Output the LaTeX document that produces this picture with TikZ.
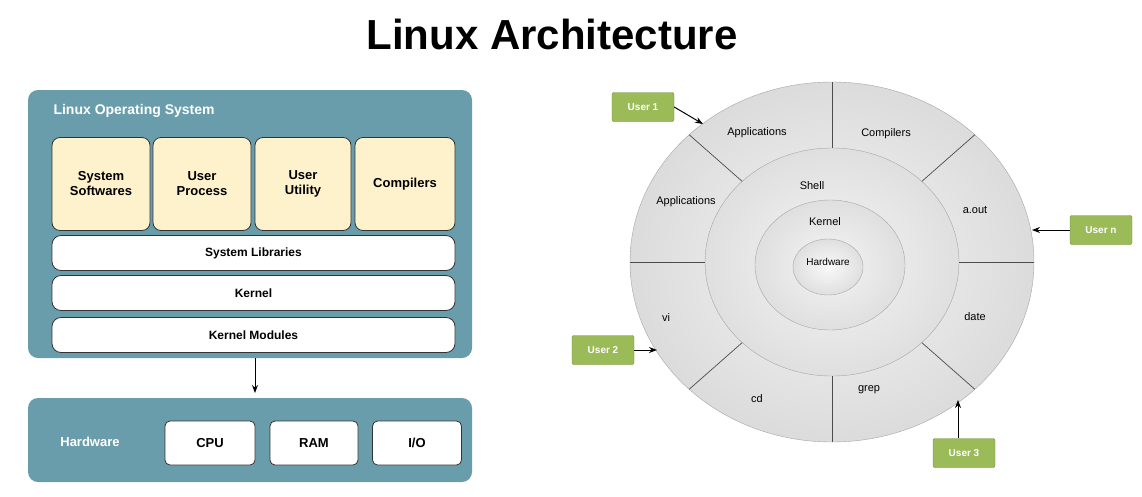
\documentclass[tikz,border=0pt]{standalone}
\usepackage{fontspec}
\setmainfont{Liberation Sans}
\usetikzlibrary{arrows.meta}
\definecolor{teal1}{HTML}{6A9DAB}
\definecolor{ybox}{HTML}{FDF2CC}
\definecolor{ugreen}{HTML}{9BBB59}
\definecolor{ugreenb}{HTML}{6E8A3A}
\begin{document}
\begin{tikzpicture}[x=1pt,y=-1pt,
 panel/.style={fill=teal1,rounded corners=10pt},
 ybx/.style={draw=black!80,fill=ybox,rounded corners=8pt,line width=0.8pt,align=center,font=\bfseries\fontsize{13}{15}\selectfont},
 bar/.style={draw=black!80,fill=white,rounded corners=9pt,line width=0.8pt,font=\bfseries\fontsize{12}{14}\selectfont},
 hw/.style={draw=black!80,fill=white,rounded corners=5pt,line width=0.8pt,font=\bfseries\fontsize{13}{15}\selectfont},
 usr/.style={draw=ugreenb,fill=ugreen,rounded corners=2pt,minimum width=62pt,minimum height=29pt,text=white,font=\bfseries\fontsize{10}{12}\selectfont},
 lbl/.style={font=\fontsize{11}{13}\selectfont},
 arr/.style={-{Stealth[length=8pt,width=6pt]},line width=1pt}]
\useasboundingbox (0,0) rectangle (1142,496);
\node[font=\bfseries\fontsize{42}{48}\selectfont] (title) at (552,34) {Linux Architecture};
% left
\fill[panel] (28,90) rectangle (472,358);
\node[anchor=west,text=white,font=\bfseries\fontsize{14}{16}\selectfont] (los) at (50,111) {Linux Operating System};
\node[ybx,minimum width=98pt,minimum height=93pt] (ss) at (101,184) {System\\Softwares};
\node[ybx,minimum width=98pt,minimum height=93pt] (up) at (202,184) {User\\Process};
\node[ybx,minimum width=96pt,minimum height=93pt] (uu) at (303,184) {User\\Utility};
\node[ybx,minimum width=100pt,minimum height=93pt] (co) at (405,184) {Compilers};
\node[bar,minimum width=403pt,minimum height=35pt] (sl) at (253.5,253) {System Libraries};
\node[bar,minimum width=403pt,minimum height=35pt] (ke) at (253.5,293) {Kernel};
\node[bar,minimum width=403pt,minimum height=35pt] (km) at (253.5,335) {Kernel Modules};
\fill[panel] (28,398) rectangle (472,482);
\node[text=white,font=\bfseries\fontsize{13}{15}\selectfont] (hwl) at (90,442) {Hardware};
\node[hw,minimum width=90pt,minimum height=44pt] (cpu) at (210,443) {CPU};
\node[hw,minimum width=88pt,minimum height=44pt] (ram) at (314,443) {RAM};
\node[hw,minimum width=89pt,minimum height=44pt] (io) at (417,443) {I/O};
\coordinate (a1) at (255,358); \coordinate (a2) at (255,393);
\draw[arr] (a1) -- (a2);
% right
\def\cx{832}\def\cy{262}
\shade[inner color=gray!8,outer color=gray!28,draw=gray!70] (\cx,\cy) ellipse [x radius=202,y radius=180];
\shade[inner color=gray!8,outer color=gray!25,draw=gray!70] (\cx,\cy) ellipse [x radius=127,y radius=114];
\shade[inner color=gray!8,outer color=gray!25,draw=gray!70] (830,265) ellipse [x radius=75,y radius=65];
\shade[inner color=gray!5,outer color=gray!25,draw=gray!70] (828,267) ellipse [x radius=35,y radius=28];
\foreach \t in {0,45,90,135,180,225,270,315}
  \draw[gray!60!black,line width=0.7pt] ({\cx+127*cos(\t)},{\cy-114*sin(\t)}) -- ({\cx+202*cos(\t)},{\cy-180*sin(\t)});
\node[lbl] (l1) at (757,133) {Applications};
\node[lbl] (l2) at (886,134) {Compilers};
\node[lbl] (l3) at (686,202) {Applications};
\node[lbl] (l4) at (975,210) {a.out};
\node[lbl] (l5) at (666,318) {vi};
\node[lbl] (l6) at (975,317) {date};
\node[lbl] (l7) at (757,399) {cd};
\node[lbl] (l8) at (869,390) {grep};
\node[lbl] (sh) at (812,186) {Shell};
\node[lbl] (kn) at (825,222) {Kernel};
\node[font=\fontsize{10}{12}\selectfont] (hd) at (828,262) {Hardware};
\node[usr] (u1) at (643,107) {User 1};
\node[usr] (un) at (1101,230) {User n};
\node[usr] (u2) at (603,350) {User 2};
\node[usr] (u3) at (964,453) {User 3};
\coordinate (t1) at (703,124); \coordinate (tn) at (1032,230);
\coordinate (t2) at (657,350); \coordinate (t3) at (958,400);
\draw[arr] (u1.east) -- (t1);
\draw[arr] (un.west) -- (tn);
\draw[arr] (u2.east) -- (t2);
\draw[arr] (u3.north -| t3) -- (t3);
\end{tikzpicture}
\end{document}
